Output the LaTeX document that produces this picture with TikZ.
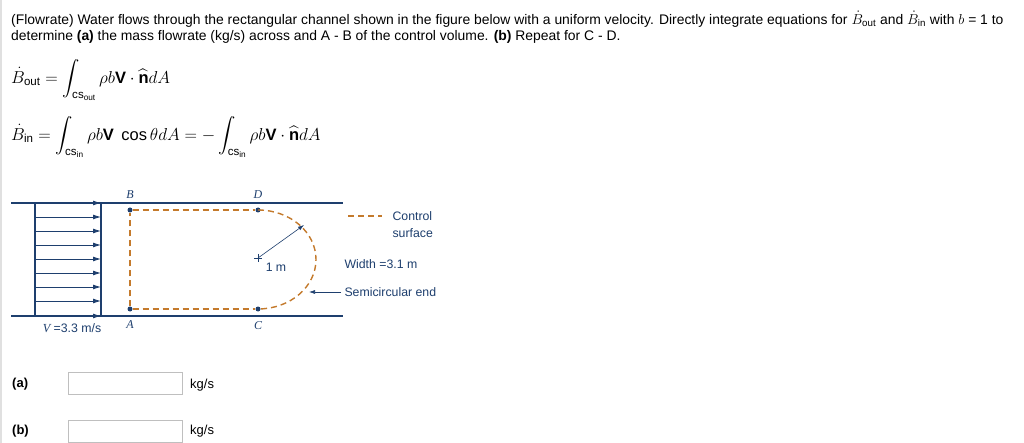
\documentclass[tikz,border=0pt]{standalone}
\usepackage{fontspec}
\setmainfont{Liberation Sans}
\newfontfamily\serifb{Liberation Serif}
\usepackage{amsmath}
\usetikzlibrary{arrows.meta}
\definecolor{navy}{HTML}{1E3F6E}
\definecolor{cs}{HTML}{C47A2C}
\tikzset{
  chan/.style={navy,line width=1.3pt},
  flow/.style={navy,line width=0.9pt,-{Latex[length=8pt,width=5pt]}},
  csline/.style={cs,line width=1.4pt,dash pattern=on 6pt off 4pt},
  dot/.style={circle,fill=navy,inner sep=0pt,minimum size=5pt},
  lab/.style={font=\fontsize{12.3}{14}\selectfont,text=navy},
  ital/.style={font=\serifb\itshape\fontsize{12}{14}\selectfont,text=navy},
  body/.style={font=\fontsize{13.9}{16}\selectfont,anchor=west,inner sep=0pt},
  eq/.style={font=\fontsize{16.5}{19}\selectfont,anchor=west,inner sep=0pt},
  box/.style={draw=black!25,line width=0.6pt}
}
\begin{document}
\begin{tikzpicture}[x=1pt,y=-1pt]
\useasboundingbox[fill=white] (0,0) rectangle (1024,443);
\fill[black!12] (0,0) rectangle (2,443);
\node[body] (t1) at (11,19) {(Flowrate) Water flows through the rectangular channel shown in the figure below with a uniform velocity. Directly integrate equations for $\dot B_{\mathrm{out}}$ and $\dot B_{\mathrm{in}}$ with $b$ = 1 to};
\node[body] (t2) at (11,37) {determine \textbf{(a)} the mass flowrate (kg/s) across and A - B of the control volume. \textbf{(b)} Repeat for C - D.};
\node[eq] (e1) at (11,80) {$\dot B_{\mathrm{out}}=\displaystyle\int_{\mathrm{cs}_{\mathrm{out}}}\rho b\mathbf{V}\cdot\widehat{\mathbf{n}}dA$};
\node[eq] (e2) at (11,137) {$\dot B_{\mathrm{in}}=\displaystyle\int_{\mathrm{cs}_{\mathrm{in}}}\rho b\mathbf{V}\ \cos\theta dA=-\int_{\mathrm{cs}_{\mathrm{in}}}\rho b\mathbf{V}\cdot\widehat{\mathbf{n}}dA$};
% channel
\draw[chan] (11,203) -- (343,203);
\draw[chan] (11,316) -- (343,316);
\draw[chan] (35,203) -- (35,316);
\draw[chan] (101,203) -- (101,316);
\foreach \y in {203,217,231,245,259,273,287,301,316}
  \draw[flow] (35,\y) -- (101,\y);
% control surface
\node[dot] (B) at (130,210) {};
\node[dot] (D) at (258,210) {};
\node[dot] (A) at (130,309) {};
\node[dot] (C) at (258,309) {};
\draw[csline] (A) -- (B) -- (D);
\draw[csline] (A) -- (C);
\draw[csline] (D.center) arc[start angle=-90,end angle=90,x radius=58,y radius=49.5];
\coordinate (ctr) at (258,258);
\draw[navy,line width=0.4pt] (254,258) -- (262,258) (258,254) -- (258,262);
\coordinate (rim) at (304,225);
\draw[navy,line width=0.6pt,-{Latex[length=6pt,width=4pt]}] (ctr) -- (rim);
\node[lab] (r) at (276,267) {1 m};
\node[ital] (lB) at (130,195) {B};
\node[ital] (lD) at (258,195) {D};
\node[ital] (lA) at (130,325) {A};
\node[ital] (lC) at (258,326) {C};
\node[lab] (V) at (72,328) {\serifb\itshape V\normalfont\ =3.3 m/s};
% legend
\draw[csline] (348,216) -- (382,216);
\node[lab,anchor=west] (l1) at (389,216) {Control};
\node[lab,anchor=west] (l2) at (389,233) {surface};
\node[lab,anchor=west] (w) at (341,264) {Width =3.1 m};
\node[lab,anchor=west] (se) at (341,292) {Semicircular end};
\coordinate (sept) at (309,292);
\draw[navy,line width=0.6pt,-{Latex[length=6pt,width=4pt]}] (se.west) -- (sept);
% answers
\node[body,font=\bfseries\fontsize{13}{15}\selectfont] (a) at (12,384) {(a)};
\draw[box] (68,372) rectangle (182,394);
\node[body,font=\fontsize{13}{15}\selectfont] (ka) at (190,385) {kg/s};
\node[body,font=\bfseries\fontsize{13}{15}\selectfont] (b) at (12,431) {(b)};
\draw[box] (68,420) rectangle (182,442);
\node[body,font=\fontsize{13}{15}\selectfont] (kb) at (190,431) {kg/s};
\end{tikzpicture}
\end{document}
